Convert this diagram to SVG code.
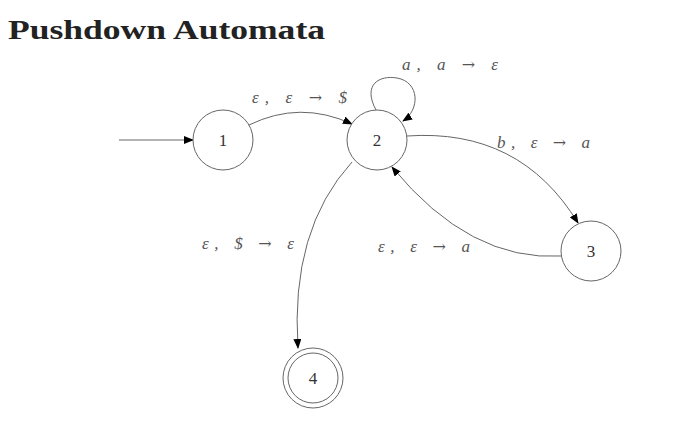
<svg xmlns="http://www.w3.org/2000/svg" width="700" height="424" viewBox="0 0 700 424">
<style>
.n{fill:#fff;stroke:#666;stroke-width:1}
.t{font-family:"Liberation Serif",serif;font-size:17px;fill:#333;text-anchor:middle}
.l{font-family:"Liberation Serif",serif;font-size:17px;fill:#555;font-style:italic;white-space:pre}
.r{font-family:"DejaVu Serif",serif;font-style:normal;font-size:16px}
.e{fill:none;stroke:#666;stroke-width:1;marker-end:url(#a)}
</style>
<defs><marker id="a" markerWidth="10" markerHeight="8" refX="9" refY="4" orient="auto" markerUnits="userSpaceOnUse"><path d="M0,0 L10,4 L0,8 Z" fill="#000"/></marker></defs>
<rect width="700" height="424" fill="#fff"/>
<text x="8" y="39" font-family="Liberation Serif,serif" font-size="28" font-weight="bold" fill="#222" textLength="317" lengthAdjust="spacingAndGlyphs">Pushdown Automata</text>
<g id="edges">
<path class="e" d="M119,140 L193,140"/>
<path class="e" d="M249,125 Q300,100 352,124"/>
<path class="e" d="M376,110 C362,84 380,75 397,78 C420,82 420,110 403,121"/>
<path class="e" d="M407,136 Q520,128 578,223"/>
<path class="e" d="M562,256 Q470,262 392,167"/>
<path class="e" d="M352,162 Q290,230 298,348"/>
<text class="l" x="252" y="103" textLength="95" lengthAdjust="spacing">ε, ε <tspan class="r">→</tspan> $</text>
<text class="l" x="402" y="70" textLength="96" lengthAdjust="spacing">a, a <tspan class="r">→</tspan> ε</text>
<text class="l" x="497" y="148" textLength="93" lengthAdjust="spacing">b, ε <tspan class="r">→</tspan> a</text>
<text class="l" x="378" y="252" textLength="92" lengthAdjust="spacing">ε, ε <tspan class="r">→</tspan> a</text>
<text class="l" x="202" y="249" textLength="92" lengthAdjust="spacing">ε, $ <tspan class="r">→</tspan> ε</text>
</g>
<g id="n1"><circle class="n" cx="223" cy="140" r="30"/><text class="t" x="223" y="146">1</text></g>
<g id="n2"><circle class="n" cx="377" cy="140" r="30"/><text class="t" x="377" y="146">2</text></g>
<g id="n3"><circle class="n" cx="591" cy="251" r="30"/><text class="t" x="591" y="257">3</text></g>
<g id="n4"><circle class="n" cx="313" cy="378" r="30"/><circle class="n" cx="313" cy="378" r="25"/><text class="t" x="313" y="384">4</text></g>
</svg>
